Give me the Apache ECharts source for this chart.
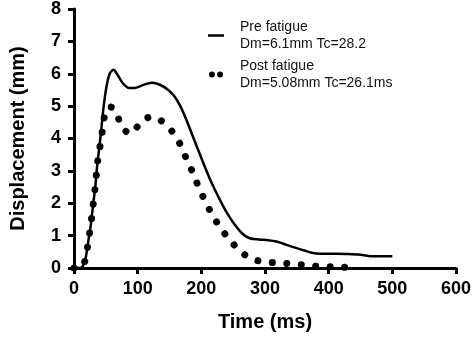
<!DOCTYPE html>
<html>
<head>
<meta charset="utf-8">
<script src="https://cdn.jsdelivr.net/npm/echarts@6/dist/echarts.min.js"></script>
<style>
html,body{margin:0;padding:0;background:#fff;}
#chart{width:474px;height:337px;}
</style>
</head>
<body>
<div id="chart"></div>
<script>
// ---- data ----
const preNames = ['Pre fatigue', 'Dm=6.1mm Tc=28.2'];
const postNames = ['Post fatigue', 'Dm=5.08mm Tc=26.1ms'];

const preTime = [0,10,15,19,23,26.5,29,31.7,34.2,36.3,39,43,46,51,56,62,68,77,87,95,108,122,135,148,158,167,176,185,194,205,215,228,240,252,265,276,290,305,318,330,342,360,380,400,430,450,470,500];
const preDisp = [0,0,0.1,0.38,0.9,1.35,1.78,2.22,2.67,3.15,3.6,4.3,4.9,5.6,6.0,6.12,5.98,5.7,5.56,5.56,5.65,5.72,5.66,5.5,5.3,5.0,4.6,4.15,3.7,3.15,2.68,2.15,1.71,1.35,1.05,0.92,0.88,0.86,0.82,0.74,0.66,0.55,0.45,0.44,0.43,0.41,0.36,0.36];

const postTime = [0,10,15,19,23,26.5,29,31.7,34.2,36.3,39.4,43.4,46,52,58,65,73,80,88,96,104,113,123,133,143,158,169,178,188,196,206,217,229,243,259,277,299,320,343,366,389,411,434];
const postDisp = [0,0,0.1,0.38,0.89,1.35,1.78,2.22,2.67,3.15,3.6,4.05,4.5,4.94,4.97,4.86,4.46,4.25,4.15,4.28,4.48,4.62,4.67,4.6,4.45,4.12,3.73,3.3,2.89,2.48,2.07,1.65,1.27,0.91,0.56,0.3,0.19,0.16,0.13,0.08,0.04,0.04,0.0];

const xRange = [0, 600, 100];
const yRange = [0, 8, 1];
const xTitle = 'Time (ms)';
const yTitle = 'Displacement (mm)';

// ---- build ----
const zip = (a, b) => a.map((v, i) => [v, b[i]]);
const subtitle = {};
subtitle[preNames[0]] = preNames[1];
subtitle[postNames[0]] = postNames[1];

const FONT = 'Liberation Sans, Arial, sans-serif';
const lineIcon = 'path://M0,0H16V2.5H0Z';
const dotIcon = 'path://M0,2.75a2.75,2.75 0 1,0 5.5,0a2.75,2.75 0 1,0 -5.5,0M7.5,2.75a2.75,2.75 0 1,0 5.5,0a2.75,2.75 0 1,0 -5.5,0';

const chart = echarts.init(document.getElementById('chart'), null, {renderer: 'canvas'});
chart.setOption({
  animation: false,
  backgroundColor: '#fff',
  grid: {left: 67, right: 16, top: 9, bottom: 68, containLabel: false},
  legend: {
    orient: 'vertical',
    left: 208, top: 10, padding: 0,
    itemWidth: 16, itemHeight: 6, itemGap: -12,
    symbolKeepAspect: true,
    selectedMode: false,
    itemStyle: {color: '#000', borderWidth: 0},
    data: [
      {name: preNames[0], icon: lineIcon},
      {name: postNames[0], icon: dotIcon}
    ],
    formatter: n => n + '\n' + subtitle[n],
    textStyle: {fontFamily: FONT, fontSize: 14, lineHeight: 17, color: '#111', padding: [17, 0, 0, 11]}
  },
  xAxis: {
    type: 'value', min: xRange[0], max: xRange[1], interval: xRange[2],
    name: xTitle, nameLocation: 'middle', nameGap: 44,
    nameTextStyle: {fontFamily: FONT, fontSize: 20, fontWeight: 'bold', color: '#000'},
    axisLine: {show: true, lineStyle: {color: '#000', width: 3}},
    axisTick: {show: true, inside: false, length: 6, lineStyle: {color: '#000', width: 3}},
    axisLabel: {fontFamily: FONT, fontSize: 18, fontWeight: 'bold', color: '#000', margin: 12},
    splitLine: {show: false}
  },
  yAxis: {
    type: 'value', min: yRange[0], max: yRange[1], interval: yRange[2],
    name: yTitle, nameLocation: 'middle', nameGap: 46,
    nameTextStyle: {fontFamily: FONT, fontSize: 20, fontWeight: 'bold', color: '#000'},
    axisLine: {show: true, lineStyle: {color: '#000', width: 3}},
    axisTick: {show: true, inside: false, length: 6, lineStyle: {color: '#000', width: 3}},
    axisLabel: {fontFamily: FONT, fontSize: 18, fontWeight: 'bold', color: '#000', margin: 13},
    splitLine: {show: false}
  },
  series: [
    {
      name: postNames[0], type: 'line', data: zip(postTime, postDisp),
      smooth: 0.3, showSymbol: false, symbol: 'none', color: '#000',
      lineStyle: {color: '#000', width: 7, type: [0.01, 14.5], cap: 'round'},
      z: 2
    },
    {
      name: preNames[0], type: 'line', data: zip(preTime, preDisp),
      smooth: 0.3, showSymbol: false, symbol: 'none', color: '#000',
      lineStyle: {color: '#000', width: 2.5},
      z: 3
    }
  ]
});
</script>
</body>
</html>
